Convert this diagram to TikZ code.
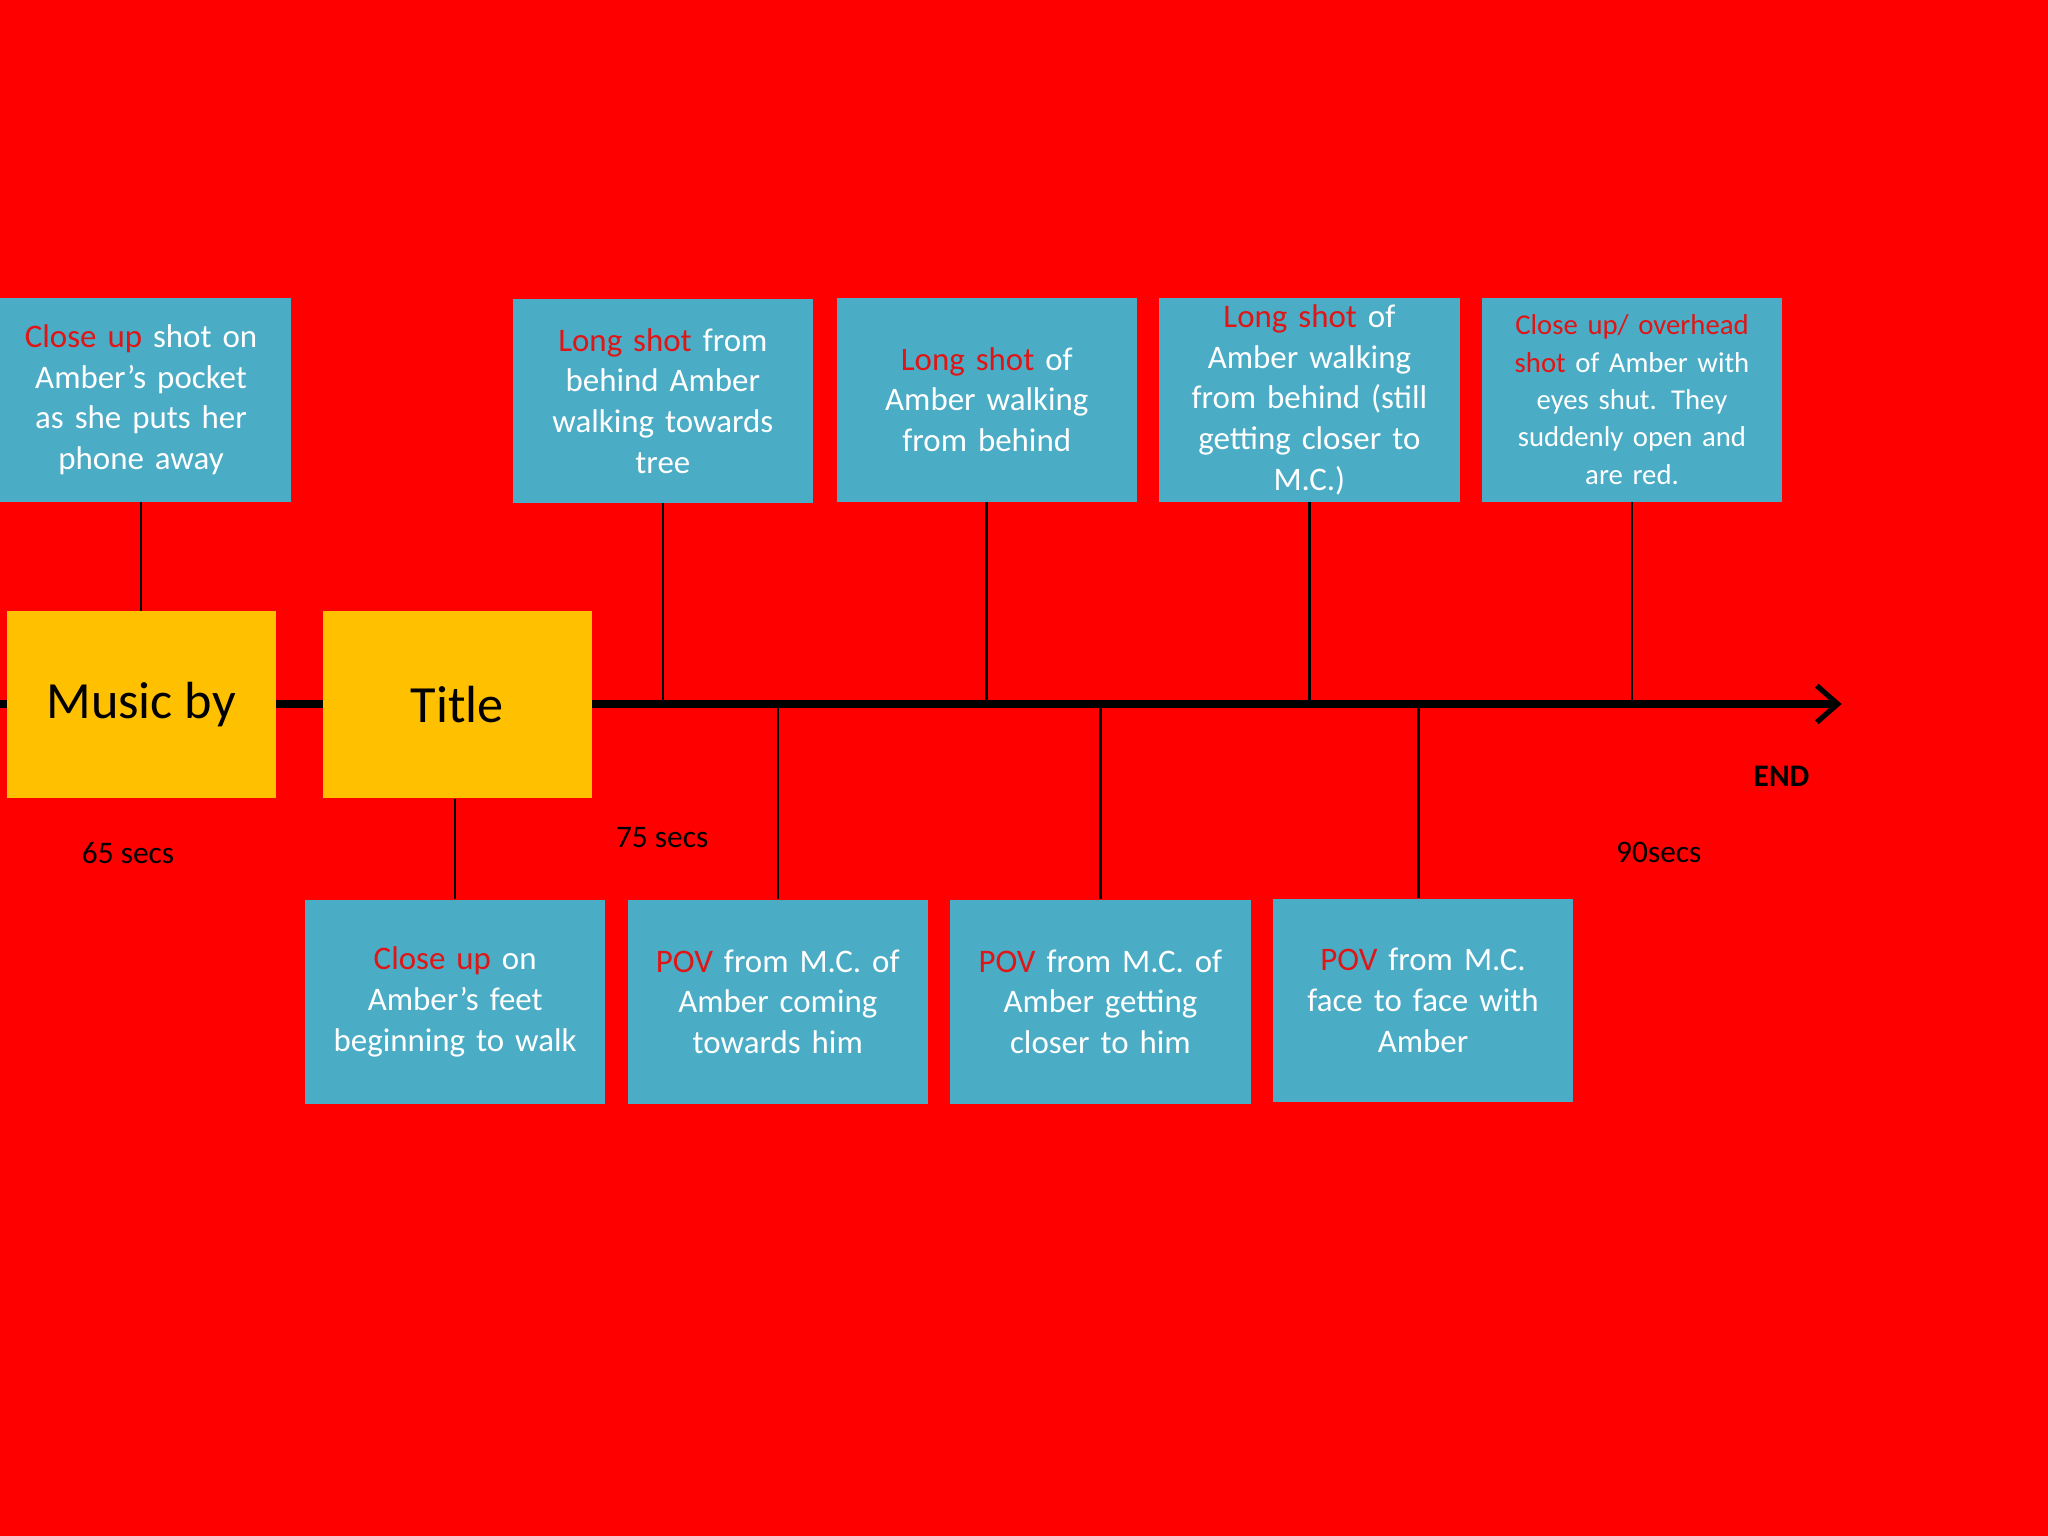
\documentclass[tikz,border=0pt]{standalone}
\usepackage{fontspec}
\setmainfont{Carlito}
\usetikzlibrary{arrows.meta}
\definecolor{bl}{HTML}{4BACC6}
\definecolor{yl}{HTML}{FFC000}
\definecolor{rt}{HTML}{E01515}
\begin{document}
\begin{tikzpicture}[x=0.5pt,y=-0.5pt,
 shot/.style={fill=bl,draw=none,minimum width=115pt,minimum height=78pt,text width=112pt,align=center,text=white,font=\fontsize{12.6}{15.6}\selectfont,inner sep=0pt},
 ybox/.style={fill=yl,draw=none,minimum width=103pt,minimum height=71.5pt,font=\fontsize{20}{22}\selectfont},
 conn/.style={line width=1pt},
 lab/.style={font=\fontsize{12}{14}\selectfont}]
\useasboundingbox[fill=red] (0,0) rectangle (1568,1176);
\newcommand{\rr}[1]{\textcolor{rt}{#1}}
% axis
\draw[line width=3pt,-{Straight Barb[length=8pt,width=14pt,line width=2pt]}] (0,539) -- (1410,539);
% yellow
\node[ybox] (mb) at (108,539.5) {Music by};
\node[ybox] (ti) at (350,539.5) {Title};
% top shots
\node[shot] (a) at (108,306) {\rr{Close up} shot on\\Amber’s pocket\\as she puts her\\phone away};
\node[shot] (b) at (507.5,307) {\rr{Long shot} from\\behind Amber\\walking towards\\tree};
\node[shot] (c) at (755.5,306) {\rr{Long shot} of\\Amber walking\\from behind};
\node[shot] (d) at (1002.5,306) {\rr{Long shot} of\\Amber walking\\from behind (still\\getting closer to\\M.C.)};
\node[shot,font=\fontsize{11}{14.3}\selectfont] (e) at (1249.5,306) {\rr{Close up/ overhead}\\\rr{shot} of Amber with\\eyes shut. They\\suddenly open and\\are red.};
% bottom shots
\node[shot] (f) at (348.5,767) {\rr{Close up} on\\Amber’s feet\\beginning to walk};
\node[shot] (g) at (595.5,767) {\rr{POV} from M.C. of\\Amber coming\\towards him};
\node[shot] (h) at (842.5,767) {\rr{POV} from M.C. of\\Amber getting\\closer to him};
\node[shot] (i) at (1089.5,766) {\rr{POV} from M.C.\\face to face with\\Amber};
% axis points
\coordinate (pb) at (507.5,539);
\coordinate (pc) at (755.5,539);
\coordinate (pd) at (1002.5,539);
\coordinate (pe) at (1249.5,539);
\coordinate (pg) at (595.5,539);
\coordinate (ph) at (842.5,539);
\coordinate (pi) at (1086,539);
\draw[conn] (a.south) -- (mb.north-|a.south);
\draw[conn] (b.south) -- (pb);
\draw[conn] (c.south) -- (pc);
\draw[conn] (d.south) -- (pd);
\draw[conn] (e.south) -- (pe);
\draw[conn] (ti.south-|f.north) -- (f.north);
\draw[conn] (pg) -- (g.north);
\draw[conn] (ph) -- (h.north);
\draw[conn] (pi) -- (i.north-|pi);
% labels
\node[lab] (l65) at (98,653) {65 secs};
\node[lab] (l75) at (507,641) {75 secs};
\node[lab] (l90) at (1270,653) {90secs};
\node[lab,font=\fontsize{12}{14}\selectfont\bfseries] (end) at (1364,594) {END};
\end{tikzpicture}
\end{document}
